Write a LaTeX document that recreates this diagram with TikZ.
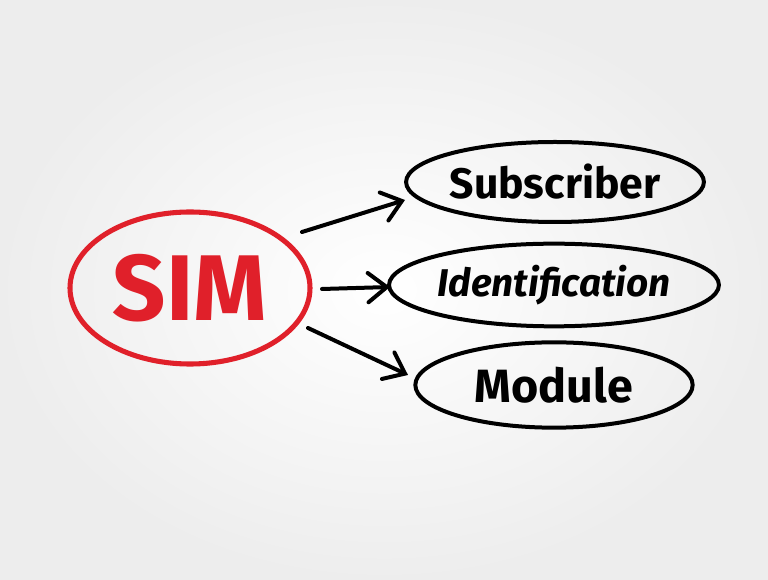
\documentclass[tikz,border=0pt]{standalone}
\usepackage{fontspec}
\setmainfont{Fira Sans}
\usetikzlibrary{arrows.meta,shapes.geometric}

\definecolor{simred}{HTML}{E0202A}
\tikzstyle{oval} = [ellipse, draw=black, line width=3pt, inner sep=0pt]
\tikzstyle{arw} = [-{Straight Barb[length=14pt,width=22pt,line cap=round]}, line width=3pt, line cap=round]

\begin{document}
\begin{tikzpicture}[x=0.75pt,y=-0.75pt]

\useasboundingbox (0,0) rectangle (768,580);
\shade[inner color=white, outer color=black!7] (0,0) rectangle (768,580);

\node[oval, draw=simred, line width=3.8pt, minimum width=180pt, minimum height=114pt,
      text=simred, font=\fontsize{70}{70}\selectfont\bfseries] (sim) at (190,288) {SIM};
\node[oval, minimum width=202pt, minimum height=60pt,
      font=\fontsize{32}{32}\selectfont\bfseries] (sub) at (555,182) {Subscriber};
\node[oval, minimum width=216pt, minimum height=62pt,
      font=\fontsize{29}{29}\selectfont\bfseries\itshape] (ident) at (554,285) {Identification};
\node[oval, minimum width=208pt, minimum height=64pt,
      font=\fontsize{35}{35}\selectfont\bfseries] (mod) at (554,385) {Module};

\coordinate (a1) at (302,232);
\coordinate (b1) at (405,200);
\coordinate (a2) at (322,289);
\coordinate (b2) at (390,287);
\coordinate (a3) at (308,328);
\coordinate (b3) at (408,375);

\draw[arw] (a1) -- (b1);
\draw[arw] (a2) -- (b2);
\draw[arw] (a3) -- (b3);

\end{tikzpicture}
\end{document}
